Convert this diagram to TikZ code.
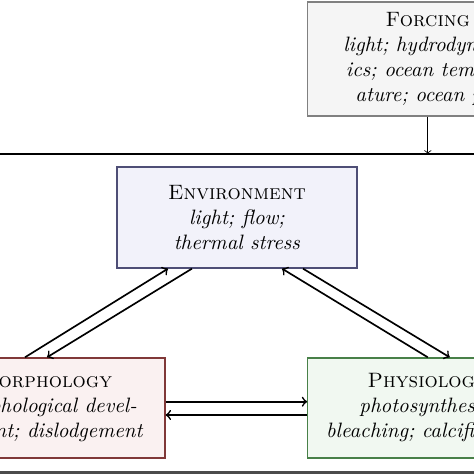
\documentclass[tikz,border=0pt]{standalone}
\usepackage{color, xcolor}
\usepackage{amsmath}
\usepackage{tikz}
\usetikzlibrary{positioning}

\definecolor{forcline}{RGB}{128,128,128}
\definecolor{forcfill}{RGB}{245,245,245}
\definecolor{envline}{RGB}{78,78,118}
\definecolor{envfill}{RGB}{242,242,250}
\definecolor{morphline}{RGB}{128,56,56}
\definecolor{morphfill}{RGB}{250,241,241}
\definecolor{physline}{RGB}{72,128,72}
\definecolor{physfill}{RGB}{241,248,241}
\definecolor{bandgray}{RGB}{75,75,75}

\begin{document}
\begin{tikzpicture}[
    box/.style={draw, semithick, minimum width=4.05cm, minimum height=1.69cm, align=center, inner sep=0pt},
    link/.style={->, thick, black}
  ]
            \clip (0,0) rectangle (8,8);
            % boxes
            \node [box, draw=forcline, fill=forcfill, minimum height=1.924cm] (forcing) at (7.22,7.004)
              {\textsc{Forcing}\\ \textit{light; hydrodynam-}\\ \textit{ics; ocean temper-}\\ \textit{ature; ocean pH}};
            \node [box, draw=envline, fill=envfill, minimum height=1.705cm] (env) at (4.0,4.329)
              {\textsc{Environment}\\ \textit{light; flow;}\\ \textit{thermal stress}};
            \node [box, draw=morphline, fill=morphfill] (morph) at (0.76,1.114)
              {\textsc{Morphology}\\ \textit{morphological devel-}\\ \textit{opment; dislodgement}};
            \node [box, draw=physline, fill=physfill] (phys) at (7.22,1.114)
              {\textsc{Physiology}\\ \textit{photosynthesis;}\\ \textit{bleaching; calcification}};
            % forcing line
            \coordinate (busL) at (0,5.401);
            \coordinate (busR) at (8,5.401);
            \coordinate (busF) at (7.22,5.401);
            \draw [semithick, black](busL)--(busR);
            \draw [->, black](forcing)--(busF);
            % links
            \draw [link]([xshift=-0.338cm]morph.north)--([xshift=-1.165cm]env.south);
            \draw [link]([xshift=-0.76cm]env.south)--([xshift=0.034cm]morph.north);
            \draw [link](phys.north)--([xshift=0.76cm]env.south);
            \draw [link]([xshift=1.114cm]env.south)--([xshift=0.37cm]phys.north);
            \draw [link]([yshift=0.106cm]morph.east)--([yshift=0.106cm]phys.west);
            \draw [link]([yshift=-0.118cm]phys.west)--([yshift=-0.118cm]morph.east);
            % band
            \fill [bandgray](0,0) rectangle (8,0.056);
            \end{tikzpicture}
\end{document}
